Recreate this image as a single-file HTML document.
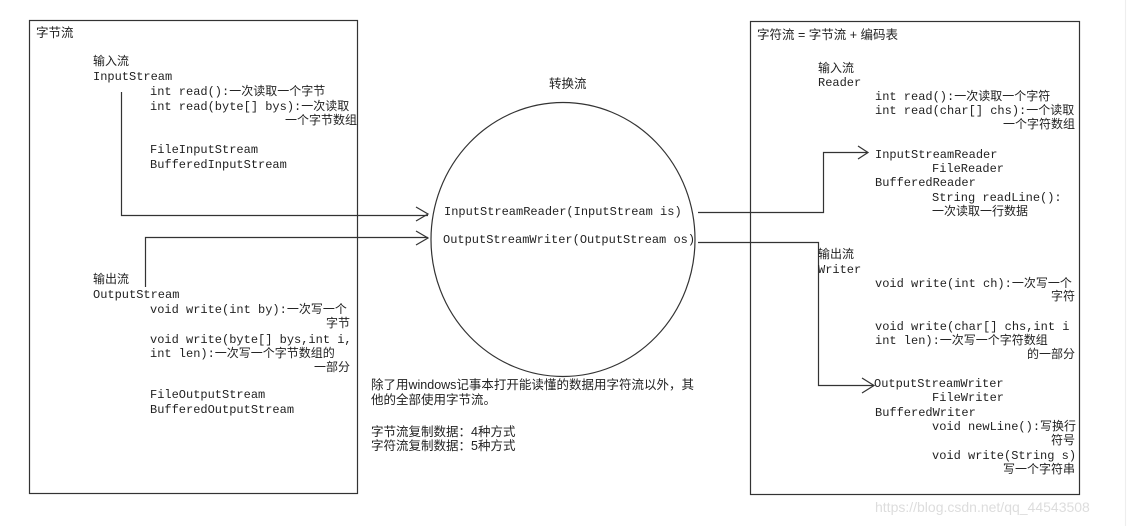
<!DOCTYPE html>
<html><head><meta charset="utf-8"><style>
html,body{margin:0;padding:0;background:#fff;}
#c{position:relative;width:1127px;height:526px;overflow:hidden;background:#fff;}
.t{position:absolute;white-space:pre;font:12px/14px "Liberation Mono","Noto Sans CJK SC",monospace;color:#222;}
.r{text-align:right;}
.s{font-family:"Liberation Sans","Noto Sans CJK SC",sans-serif;font-size:12.5px;}
svg{position:absolute;left:0;top:0;}
</style></head><body><div id="c">
<svg width="1127" height="526" fill="none" stroke="#333" stroke-width="1.2">
<rect x="29.5" y="20.5" width="328" height="473"/>
<rect x="750.5" y="21.5" width="329" height="473"/>
<ellipse cx="563" cy="239.5" rx="132" ry="137"/>
<polyline points="121.5,92 121.5,215.5 428,215.5"/>
<polyline points="416,207 428,214 416,221"/>
<polyline points="145.5,287 145.5,237.5 428,237.5"/>
<polyline points="416,231 428,238 416,245"/>
<polyline points="698,212.5 823.5,212.5 823.5,152.5 868,152.5"/>
<polyline points="858,146 868,152.5 858,159"/>
<polyline points="698,242.5 818.5,242.5 818.5,385.5 874,385.5"/>
<polyline points="862,378 874,385.5 862,393"/>
<line x1="1125.5" y1="0" x2="1125.5" y2="526" stroke="#eee"/>
</svg>
<div class="t s" style="left:36px;top:26px">字节流</div>
<div class="t" style="left:93px;top:55px">输入流</div>
<div class="t" style="left:93px;top:70px">InputStream</div>
<div class="t" style="left:150px;top:85px">int read():一次读取一个字节</div>
<div class="t" style="left:150px;top:100px">int read(byte[] bys):一次读取</div>
<div class="t r" style="left:150px;width:207px;top:114px">一个字节数组</div>
<div class="t" style="left:150px;top:143px">FileInputStream</div>
<div class="t" style="left:150px;top:158px">BufferedInputStream</div>
<div class="t" style="left:93px;top:273px">输出流</div>
<div class="t" style="left:93px;top:288px">OutputStream</div>
<div class="t" style="left:150px;top:303px">void write(int by):一次写一个</div>
<div class="t r" style="left:150px;width:200px;top:317px">字节</div>
<div class="t" style="left:150px;top:333px">void write(byte[] bys,int i,</div>
<div class="t" style="left:150px;top:347px">int len):一次写一个字节数组的</div>
<div class="t r" style="left:150px;width:200px;top:361px">一部分</div>
<div class="t" style="left:150px;top:388px">FileOutputStream</div>
<div class="t" style="left:150px;top:403px">BufferedOutputStream</div>
<div class="t s" style="left:549px;top:77px">转换流</div>
<div class="t" style="left:444px;top:205px">InputStreamReader(InputStream is)</div>
<div class="t" style="left:443px;top:233px">OutputStreamWriter(OutputStream os)</div>
<div class="t s" style="left:371px;top:378px">除了用windows记事本打开能读懂的数据用字符流以外，其</div>
<div class="t s" style="left:371px;top:393px">他的全部使用字节流。</div>
<div class="t s" style="left:371px;top:425px">字节流复制数据：4种方式</div>
<div class="t s" style="left:371px;top:439px">字符流复制数据：5种方式</div>
<div class="t s" style="left:757px;top:28px">字符流 = 字节流 + 编码表</div>
<div class="t" style="left:818px;top:62px">输入流</div>
<div class="t" style="left:818px;top:76px">Reader</div>
<div class="t" style="left:875px;top:90px">int read():一次读取一个字符</div>
<div class="t" style="left:875px;top:104px">int read(char[] chs):一个读取</div>
<div class="t r" style="left:875px;width:200px;top:118px">一个字符数组</div>
<div class="t" style="left:875px;top:148px">InputStreamReader</div>
<div class="t" style="left:932px;top:162px">FileReader</div>
<div class="t" style="left:875px;top:176px">BufferedReader</div>
<div class="t" style="left:932px;top:191px">String readLine():</div>
<div class="t" style="left:932px;top:205px">一次读取一行数据</div>
<div class="t" style="left:818px;top:248px">输出流</div>
<div class="t" style="left:818px;top:263px">Writer</div>
<div class="t" style="left:875px;top:277px">void write(int ch):一次写一个</div>
<div class="t r" style="left:875px;width:200px;top:290px">字符</div>
<div class="t" style="left:875px;top:320px">void write(char[] chs,int i</div>
<div class="t" style="left:875px;top:334px">int len):一次写一个字符数组</div>
<div class="t r" style="left:875px;width:200px;top:348px">的一部分</div>
<div class="t" style="left:874px;top:377px">OutputStreamWriter</div>
<div class="t" style="left:932px;top:391px">FileWriter</div>
<div class="t" style="left:875px;top:406px">BufferedWriter</div>
<div class="t" style="left:932px;top:420px">void newLine():写换行</div>
<div class="t r" style="left:875px;width:200px;top:434px">符号</div>
<div class="t" style="left:932px;top:449px">void write(String s)</div>
<div class="t r" style="left:875px;width:200px;top:463px">写一个字符串</div>
<div class="t" style="left:875px;top:498px;font:14px/18px 'Liberation Sans',sans-serif;color:#ddd">https://blog.csdn.net/qq_44543508</div>
</div></body></html>
